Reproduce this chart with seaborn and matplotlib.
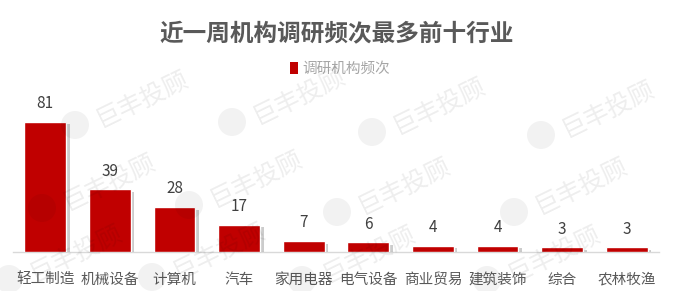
import matplotlib
matplotlib.use("Agg")
import matplotlib.pyplot as plt
import matplotlib.patheffects as pe
from matplotlib.patches import Patch, Circle
import seaborn as sns
import pandas as pd

categories = ["轻工制造", "机械设备", "计算机", "汽车", "家用电器", "电气设备", "商业贸易", "建筑装饰", "综合", "农林牧渔"]
values = [81, 39, 28, 17, 7, 6, 4, 4, 3, 3]
series_name = "调研机构频次"
title = "近一周机构调研频次最多前十行业"
watermark = "巨丰投顾"

sns.set_theme(style="white")
plt.rcParams['font.family'] = ['Noto Sans CJK SC', 'DejaVu Sans']

W, H = 687, 291
fig = plt.figure(figsize=(W / 100, H / 100), dpi=100)
fig.patch.set_facecolor("white")

left, right = 13 / W, 659 / W
bottom, top = 1 - 252 / H, 1 - 107 / H
ax = fig.add_axes([left, bottom, right - left, top - bottom])
ax.set_facecolor("none")

df = pd.DataFrame({"category": categories, "value": values})
sns.barplot(data=df, x="category", y="value", color="#C00000", width=0.65,
            saturation=1, ax=ax, zorder=3)

for p in ax.patches:
    p.set_path_effects([pe.SimplePatchShadow(offset=(2.5, -2), shadow_rgbFace="#9a9a9a", alpha=0.5),
                        pe.Normal()])

ax.set_xlim(-0.5, len(categories) - 0.5)
ax.set_ylim(0, 90)

for i, v in enumerate(values):
    ax.annotate(str(v), (i, v), xytext=(0, 13), textcoords="offset points",
                ha="center", va="center", fontsize=11, color="#404040")

ax.set_xlabel("")
ax.set_ylabel("")
ax.set_yticks([])
ax.tick_params(axis="x", length=0, pad=15, labelsize=10.5, labelcolor="#595959")
for s in ["top", "right", "left"]:
    ax.spines[s].set_visible(False)
ax.spines["bottom"].set_color("#d9d9d9")
ax.spines["bottom"].set_linewidth(1)

# watermarks (figure pixel positions), overlaid semi-transparent
wm_rows = [
    [(143, 100), (300, 97), (440, 107), (609, 110)],
    [(110, 183), (257, 180), (405, 187), (582, 187)],
    [(77, 254), (220, 252), (370, 255), (555, 255)],
]
for row in wm_rows:
    for (px, py) in row:
        fig.text(px / W, 1 - py / H, watermark, rotation=26, fontsize=18,
                 color="black", alpha=0.07, ha="center", va="center", zorder=10)
        c = Circle(((px - 68) / 100, (H - py - 25) / 100), 0.14,
                   transform=fig.dpi_scale_trans, facecolor="black", alpha=0.05,
                   edgecolor="none", zorder=10)
        fig.patches.append(c)

fig.text(337 / W, 1 - 33 / H, title, ha="center", va="center", fontsize=17,
         fontweight="bold", color="#595959")

fig.legend(handles=[Patch(facecolor="#C00000", edgecolor="none", label=series_name)],
           loc="center", bbox_to_anchor=(340 / W, 1 - 69 / H), frameon=False,
           handlelength=0.6, handleheight=0.9, handletextpad=0.3,
           prop={"size": 10.5}, labelcolor="#a6a6a6")

fig.savefig("out.png", dpi=100, facecolor="white")
